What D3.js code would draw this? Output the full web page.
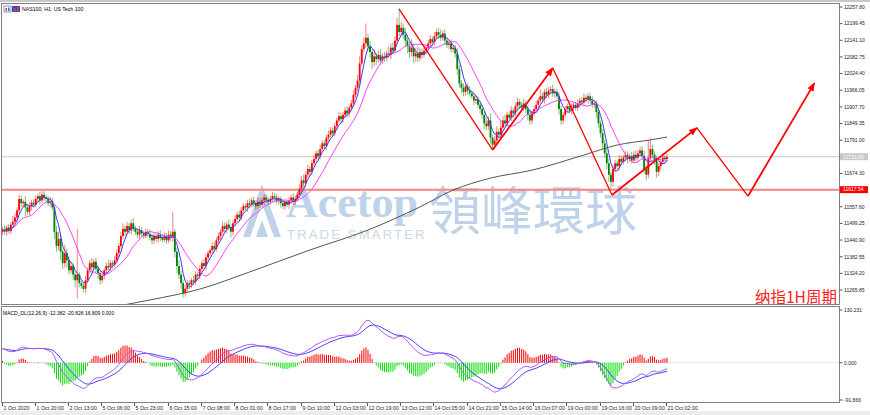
<!DOCTYPE html>
<html><head><meta charset="utf-8">
<script src="https://cdn.jsdelivr.net/npm/d3@7"></script>
<style>
body{margin:0;background:#fff;}
svg text{font-family:"Liberation Sans",Arial,sans-serif;}
</style></head><body>
<div id="chart"></div>
<script>
const W = 870, H = 415;

// NAS100 H1 closes, 1 Oct 2020 -> 21 Oct 02:00, 16 bars per row
const closes = [
11478,11470,11485,11472,11495,11505,11520,11545,11585,11570,11575,11555,11540,11560,11572,11565,
11585,11595,11580,11600,11590,11585,11570,11578,11555,11470,11420,11445,11400,11360,11395,11370,
11335,11350,11320,11300,11320,11290,11280,11270,11300,11335,11360,11345,11365,11340,11325,11300,
11315,11335,11350,11345,11360,11355,11370,11395,11420,11455,11480,11470,11490,11475,11500,11480,
11470,11460,11475,11465,11455,11470,11462,11450,11440,11455,11445,11460,11450,11442,11455,11440,
11460,11450,11470,11400,11350,11320,11290,11255,11270,11290,11285,11300,11295,11320,11315,11340,
11360,11350,11380,11395,11405,11420,11410,11440,11455,11470,11490,11480,11495,11485,11470,11500,
11515,11530,11520,11545,11560,11555,11570,11565,11580,11570,11560,11575,11565,11580,11590,11582,
11575,11585,11595,11590,11578,11585,11570,11560,11575,11565,11580,11590,11575,11585,11600,11620,
11650,11640,11670,11690,11680,11710,11725,11745,11735,11760,11780,11770,11800,11810,11825,11815,
11840,11860,11875,11865,11880,11895,11885,11905,11920,11950,11975,12000,12060,12110,12130,12150,
12120,12100,12065,12085,12075,12090,12070,12085,12080,12095,12090,12115,12105,12140,12195,12170,
12185,12160,12140,12120,12100,12115,12085,12095,12080,12100,12090,12105,12115,12130,12145,12135,
12155,12170,12160,12150,12165,12140,12125,12130,12110,12115,12095,12040,11990,11975,11960,11980,
11965,11955,11945,11930,11935,11915,11900,11880,11850,11840,11860,11800,11775,11790,11820,11810,
11835,11860,11850,11880,11870,11895,11885,11910,11925,11915,11905,11920,11900,11880,11860,11885,
11900,11915,11930,11945,11935,11960,11950,11965,11970,11955,11960,11945,11900,11860,11880,11900,
11910,11895,11905,11915,11905,11920,11930,11925,11940,11935,11945,11930,11915,11920,11890,11850,
11815,11780,11745,11710,11670,11645,11690,11710,11700,11725,11715,11730,11740,11725,11735,11720,
11740,11730,11745,11755,11735,11690,11670,11730,11760,11740,11720,11680,11700,11715,11730,11725,
11733
];
const firstOpen = 11470;
// wick length above / below the body, in points
const hiWick = [
10,15,8,12,10,20,15,10,15,12,8,20,10,15,10,12,
10,8,15,12,12,8,10,15,12,10,20,25,15,10,30,15,
12,15,10,12,160,10,8,12,15,10,12,18,10,15,12,10,
15,10,12,20,10,8,15,12,10,15,20,12,15,10,12,18,
10,12,15,10,8,12,10,15,12,10,8,12,15,10,12,10,
15,12,70,10,15,20,12,10,15,12,10,8,15,12,10,12,
10,15,12,10,8,12,15,10,12,10,15,12,10,18,12,10,
12,10,15,12,10,8,12,15,10,12,10,15,12,10,12,10,
10,12,15,10,12,10,8,15,12,10,12,10,15,12,10,15,
15,20,12,15,10,12,15,10,12,15,10,12,10,15,12,10,
12,10,15,12,10,12,15,10,12,15,10,20,25,15,20,50,
15,20,10,25,12,15,20,12,15,10,25,15,20,15,25,60,
20,15,25,20,15,30,15,20,25,15,12,15,10,12,15,10,
15,12,15,20,10,15,12,10,15,12,10,20,15,12,15,10,
12,15,10,12,15,10,12,15,10,20,15,25,10,15,20,12,
25,15,20,10,12,15,10,12,15,10,12,15,10,12,15,10,
12,15,10,25,12,10,15,12,10,15,12,10,15,12,10,12,
10,12,15,10,12,15,10,12,15,10,12,10,15,12,10,12,
10,15,12,20,15,10,15,12,10,15,12,10,15,12,10,15,
12,15,10,12,15,20,15,60,40,15,12,15,10,12,15,10,
10
];
const loWick = [
12,10,15,8,10,12,10,15,10,12,15,30,10,12,15,10,
10,12,15,10,12,15,10,12,10,25,20,15,30,20,15,25,
15,10,20,25,65,15,10,12,15,10,12,15,10,12,20,15,
10,12,15,10,12,15,10,12,15,10,12,15,10,12,15,10,
12,10,15,12,10,8,12,10,15,12,10,15,12,10,8,12,
10,12,15,20,25,15,20,15,12,10,15,12,10,12,15,10,
12,10,15,12,10,15,12,10,12,15,10,12,15,10,20,12,
10,12,15,10,12,10,15,12,10,12,15,10,12,10,15,12,
12,10,12,15,10,12,15,10,12,10,15,12,10,12,10,12,
10,15,12,10,15,12,10,12,15,10,12,10,15,12,10,12,
10,12,10,15,12,10,15,12,10,12,10,12,15,10,12,15,
15,20,25,15,20,12,15,12,15,12,10,15,12,10,12,15,
15,12,20,25,20,15,25,20,15,12,15,10,12,10,12,15,
12,10,15,12,10,15,12,15,10,12,15,20,15,20,15,12,
15,12,10,15,12,10,15,12,20,15,12,20,20,15,12,10,
12,10,15,12,10,12,15,10,12,15,12,10,15,20,15,12,
10,12,15,10,12,15,10,12,10,12,15,10,20,15,12,10,
12,10,15,12,10,12,15,10,12,10,15,12,10,12,20,15,
15,20,15,20,25,25,15,12,10,15,12,10,12,15,10,12,
10,12,15,10,12,15,20,12,15,12,15,20,15,12,10,12,
10
];

const timeLabels = ["1 Oct 2020","1 Oct 20:00","2 Oct 13:00","5 Oct 06:00","5 Oct 23:00","6 Oct 15:00",
  "7 Oct 08:00","8 Oct 01:00","8 Oct 17:00","9 Oct 10:00","12 Oct 03:00","12 Oct 19:00","13 Oct 12:00",
  "14 Oct 05:00","14 Oct 21:00","15 Oct 14:00","16 Oct 07:00","19 Oct 00:00","19 Oct 16:00","20 Oct 09:00","21 Oct 02:00"];
const priceTicks = [12257.80,12199.45,12141.10,12082.75,12024.40,11966.05,11907.70,11849.35,11791.00,
  11674.30,11557.60,11499.25,11440.90,11382.55,11324.20,11265.85];
const supportLevel = 11617.54;
const lastPrice = 11733.00;

// long moving average (grey): [bar, price]
const longMaBars = [56, 71, 95, 119, 148, 176, 201, 217, 235, 255, 280, 296, 312, 320];
const longMaVals = [11210,11231,11269,11329,11406,11476,11557,11616,11658,11686,11739,11774,11792,11802];

// analyst's red arrows: [bar, price]
const arrowPts = [[191,12250],[236,11757],[265,12044],[293.5,11599],[334.4,11834],[359,11595],[391,11991]];

const macdTicks = [130.231, 0, -91.866];
const macdStart = [36, 34];   // DIF, DEA at the first bar
const macdTitle = "MACD_DL(12,26,9) -12.382 -20.826 16.809 0.000";

// ---------- scales ----------
const x = d3.scaleLinear().domain([0, 320]).range([2.5, 667]);
const y = d3.scaleLinear().domain([11265.85, 12257.80]).range([290, 7]);
const ym = d3.scaleLinear().domain([-91.866, 130.231]).range([400, 310]);

const svg = d3.select("#chart").append("svg").attr("width", W).attr("height", H);
const defs = svg.append("defs");
defs.append("clipPath").attr("id", "mainClip").append("rect").attr("x", 2).attr("y", 4).attr("width", 837).attr("height", 300);
defs.append("clipPath").attr("id", "macdClip").append("rect").attr("x", 2).attr("y", 307).attr("width", 837).attr("height", 95);
defs.append("marker").attr("id", "head").attr("viewBox", "0 0 10 8").attr("refX", 9).attr("refY", 4)
  .attr("markerWidth", 9).attr("markerHeight", 7).attr("markerUnits", "userSpaceOnUse").attr("orient", "auto")
  .append("path").attr("d", "M0,0L10,4L0,8z").attr("fill", "#ff0000");

// window chrome
svg.append("rect").attr("x", 0).attr("y", 0).attr("width", W).attr("height", 2).attr("fill", "#c8c8c8");
svg.append("rect").attr("x", 0).attr("y", 411).attr("width", W).attr("height", 4).attr("fill", "#ececec");

const main = svg.append("g").attr("clip-path", "url(#mainClip)");

// watermark
const wm = main.append("g").attr("fill", "#bed2e9");
wm.append("path").attr("d", "M243,237 L262,184 L281,237 L274,237 L262,204 L250,237 Z");
wm.append("path").attr("d", "M256,237 L262,220 L268,237 Z");
wm.append("text").attr("x", 286).attr("y", 217).attr("font-size", 44).attr("font-weight", "bold")
  .style("font-family", "'Liberation Serif','DejaVu Serif',serif").text("Acetop");
wm.append("text").attr("x", 429).attr("y", 230).attr("font-size", 52)
  .style("font-family", "'Noto Sans CJK TC',sans-serif").attr("font-weight", 400).text("領峰環球");
wm.append("text").attr("x", 287).attr("y", 239).attr("font-size", 13).attr("letter-spacing", 2.2)
  .attr("fill", "#cbd7e6").text("TRADE SMARTER");

// horizontal levels
main.append("line").attr("x1", 2).attr("x2", 839).attr("y1", y(lastPrice)).attr("y2", y(lastPrice))
  .attr("stroke", "#c8c8c8").attr("stroke-width", 1);
main.append("line").attr("x1", 2).attr("x2", 839).attr("y1", y(supportLevel)).attr("y2", y(supportLevel))
  .attr("stroke", "#ff8080").attr("stroke-width", 2);

// long MA
main.append("path").datum(longMaBars.map((b, i) => [b, longMaVals[i]]))
  .attr("fill", "none").attr("stroke", "#555").attr("stroke-width", 1)
  .attr("d", d3.line().x(d => x(d[0])).y(d => y(d[1])).curve(d3.curveMonotoneX));

// candles
const bars = closes.map((c, i) => {
  const o = i ? closes[i - 1] : firstOpen;
  return {i, o, c, h: Math.max(o, c) + hiWick[i], l: Math.min(o, c) - loWick[i]};
});
const cg = main.append("g");
cg.selectAll(".wick").data(bars).enter().append("line")
  .attr("x1", d => x(d.i)).attr("x2", d => x(d.i))
  .attr("y1", d => y(d.h)).attr("y2", d => y(d.l))
  .attr("stroke", d => d.c >= d.o ? "#ff0000" : "#008000").attr("stroke-opacity", 0.5).attr("stroke-width", 1);
cg.selectAll(".body").data(bars).enter().append("rect")
  .attr("x", d => x(d.i) - 0.9).attr("width", 1.8)
  .attr("y", d => y(Math.max(d.o, d.c)))
  .attr("height", d => Math.max(1, Math.abs(y(d.o) - y(d.c))))
  .attr("fill", d => d.c >= d.o ? "#ff0000" : "#008000");

// short moving averages
function sma(arr, n) {
  return arr.map((d, i) => d3.mean(arr.slice(Math.max(0, i - n + 1), i + 1)));
}
const maLine = d3.line().x((d, i) => x(i)).y(d => y(d));
main.append("path").datum(sma(closes, 15)).attr("fill", "none").attr("stroke", "#ff40ff").attr("stroke-width", 1).attr("d", maLine);
main.append("path").datum(sma(closes, 5)).attr("fill", "none").attr("stroke", "#3a3aff").attr("stroke-width", 1).attr("d", maLine);

// arrows
for (let k = 0; k < arrowPts.length - 1; k++) {
  const a = arrowPts[k], b = arrowPts[k + 1];
  const up = b[1] > a[1];
  main.append("line").attr("x1", x(a[0])).attr("y1", y(a[1])).attr("x2", x(b[0])).attr("y2", y(b[1]))
    .attr("stroke", "#ff0000").attr("stroke-width", up ? 1.8 : 1.3)
    .attr("marker-end", up ? "url(#head)" : null);
}

// labels
main.append("text").attr("x", 755).attr("y", 303).attr("font-size", 15.5).attr("fill", "#ff2020")
  .style("font-family", "'Noto Sans CJK SC',sans-serif").text("纳指1H周期");
svg.append("rect").attr("x", 4).attr("y", 6).attr("width", 7).attr("height", 6).attr("fill", "#fff").attr("stroke", "#6a7fb0").attr("stroke-width", 0.8);
svg.append("rect").attr("x", 5.5).attr("y", 8).attr("width", 1.5).attr("height", 3).attr("fill", "#e04040");
svg.append("rect").attr("x", 8).attr("y", 7.5).attr("width", 1.5).attr("height", 3.5).attr("fill", "#4060d0");
svg.append("rect").attr("x", 12).attr("y", 6).attr("width", 8).attr("height", 6).attr("fill", "#3050c0");
svg.append("rect").attr("x", 14).attr("y", 8).attr("width", 1.5).attr("height", 4).attr("fill", "#ff3030");
svg.append("rect").attr("x", 17).attr("y", 7).attr("width", 1.5).attr("height", 5).attr("fill", "#ff3030");
svg.append("text").attr("x", 22).attr("y", 11).attr("font-size", 5.2).attr("fill", "#000").text("NAS100, H1: US Tech 100");

// frames
svg.append("rect").attr("x", 1.5).attr("y", 3.5).attr("width", 838).attr("height", 301).attr("fill", "none").attr("stroke", "#808080");
svg.append("rect").attr("x", 1.5).attr("y", 306.5).attr("width", 838).attr("height", 96).attr("fill", "none").attr("stroke", "#808080");

// price axis
const ax = svg.append("g");
priceTicks.forEach(p => {
  ax.append("line").attr("x1", 839.5).attr("x2", 842.5).attr("y1", y(p)).attr("y2", y(p)).attr("stroke", "#555");
  ax.append("text").attr("x", 844).attr("y", y(p) + 1.8).attr("font-size", 5).attr("fill", "#222").text(p.toFixed(2));
});
ax.append("rect").attr("x", 840).attr("y", y(lastPrice) - 3.5).attr("width", 28).attr("height", 7).attr("fill", "#c8c8c8");
ax.append("text").attr("x", 843).attr("y", y(lastPrice) + 1.8).attr("font-size", 5).attr("fill", "#fff").text(lastPrice.toFixed(2));
ax.append("rect").attr("x", 840).attr("y", y(supportLevel) - 3.5).attr("width", 28).attr("height", 7).attr("fill", "#ff0000");
ax.append("text").attr("x", 843).attr("y", y(supportLevel) + 1.8).attr("font-size", 5).attr("fill", "#fff").text(supportLevel.toFixed(2));

// MACD (12,26,9): DIF, DEA, 2*(DIF-DEA)
let e12 = closes[0], e26 = closes[0] - macdStart[0], dea = macdStart[1];
const macd = closes.map((c, i) => {
  if (i > 0) {
    e12 += (c - e12) * 2 / 13;
    e26 += (c - e26) * 2 / 27;
    const dif = e12 - e26;
    dea += (dif - dea) * 2 / 10;
  }
  const dif = e12 - e26;
  return {i, dif, dea, hist: 2 * (dif - dea)};
});
const mg = svg.append("g").attr("clip-path", "url(#macdClip)");
mg.append("line").attr("x1", 2).attr("x2", 839).attr("y1", ym(0)).attr("y2", ym(0)).attr("stroke", "#e4e4e4");
mg.selectAll(".hist").data(macd).enter().append("line")
  .attr("x1", d => x(d.i)).attr("x2", d => x(d.i))
  .attr("y1", ym(0)).attr("y2", d => ym(d.hist))
  .attr("stroke", d => d.hist >= 0 ? "#ff0000" : "#00e000").attr("stroke-width", 1);
mg.append("path").datum(macd).attr("fill", "none").attr("stroke", "#4040ff").attr("stroke-width", 1)
  .attr("d", d3.line().x(d => x(d.i)).y(d => ym(d.dea)));
mg.append("path").datum(macd).attr("fill", "none").attr("stroke", "#b455f0").attr("stroke-width", 1)
  .attr("d", d3.line().x(d => x(d.i)).y(d => ym(d.dif)));
svg.append("text").attr("x", 3).attr("y", 315).attr("font-size", 5).attr("fill", "#000").text(macdTitle);
macdTicks.forEach(v => {
  svg.append("line").attr("x1", 839.5).attr("x2", 842.5).attr("y1", ym(v)).attr("y2", ym(v)).attr("stroke", "#555");
  svg.append("text").attr("x", 844).attr("y", ym(v) + 1.8).attr("font-size", 5).attr("fill", "#222").text(v.toFixed(3));
});

// time axis
timeLabels.forEach((t, k) => {
  const xx = Math.round(x(k * 16)) - 0.5;
  svg.append("line").attr("x1", xx).attr("x2", xx).attr("y1", 403).attr("y2", 406).attr("stroke", "#555");
  svg.append("text").attr("x", xx + 1).attr("y", 409.5).attr("font-size", 5.3).attr("fill", "#222").text(t);
});
</script>
</body></html>
